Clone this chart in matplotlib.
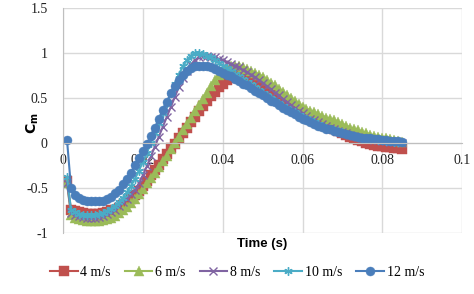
import matplotlib
matplotlib.use("Agg")
import matplotlib.pyplot as plt
import numpy as np

# time samples (s)
time = np.round(np.arange(1, 86) * 0.001, 3)

cm_4 = [-0.42, -0.74, -0.76, -0.77, -0.78, -0.79, -0.79, -0.79, -0.79, -0.78,
        -0.77, -0.75, -0.74, -0.72, -0.69, -0.66, -0.62, -0.58, -0.53, -0.48,
        -0.42, -0.36, -0.30, -0.24, -0.18, -0.12, -0.06, -0.01, 0.05, 0.11,
        0.17, 0.23, 0.29, 0.35, 0.41, 0.47, 0.52, 0.57, 0.62, 0.66,
        0.70, 0.72, 0.74, 0.75, 0.75, 0.74, 0.73, 0.71, 0.69, 0.66,
        0.63, 0.60, 0.57, 0.53, 0.50, 0.46, 0.42, 0.38, 0.35, 0.32,
        0.29, 0.27, 0.25, 0.23, 0.21, 0.19, 0.17, 0.15, 0.13, 0.11,
        0.09, 0.07, 0.05, 0.035, 0.02, 0.0, -0.01, -0.02, -0.03, -0.035,
        -0.04, -0.05, -0.055, -0.06, -0.065]

cm_6 = [-0.45, -0.80, -0.83, -0.85, -0.86, -0.87, -0.87, -0.87, -0.87, -0.86,
        -0.85, -0.83, -0.81, -0.78, -0.75, -0.71, -0.67, -0.62, -0.57, -0.51,
        -0.45, -0.39, -0.33, -0.27, -0.20, -0.14, -0.07, 0.0, 0.07, 0.14,
        0.21, 0.28, 0.35, 0.42, 0.49, 0.56, 0.63, 0.70, 0.76, 0.80,
        0.83, 0.85, 0.85, 0.85, 0.84, 0.82, 0.80, 0.78, 0.76, 0.73,
        0.70, 0.67, 0.64, 0.60, 0.57, 0.53, 0.50, 0.47, 0.43, 0.40,
        0.38, 0.36, 0.34, 0.32, 0.30, 0.28, 0.27, 0.25, 0.23, 0.21,
        0.19, 0.17, 0.16, 0.14, 0.12, 0.11, 0.09, 0.08, 0.07, 0.06,
        0.05, 0.04, 0.03, 0.02, 0.01]

cm_8 = [-0.44, -0.78, -0.80, -0.81, -0.82, -0.83, -0.83, -0.83, -0.82, -0.81,
        -0.79, -0.77, -0.74, -0.70, -0.66, -0.62, -0.57, -0.52, -0.45, -0.36,
        -0.26, -0.15, -0.04, 0.07, 0.18, 0.29, 0.40, 0.51, 0.62, 0.72,
        0.80, 0.87, 0.92, 0.95, 0.97, 0.97, 0.96, 0.95, 0.93, 0.92,
        0.90, 0.88, 0.86, 0.84, 0.81, 0.79, 0.76, 0.73, 0.70, 0.67,
        0.63, 0.60, 0.56, 0.53, 0.49, 0.46, 0.42, 0.39, 0.36, 0.33,
        0.30, 0.27, 0.25, 0.23, 0.21, 0.19, 0.17, 0.15, 0.13, 0.12,
        0.11, 0.09, 0.08, 0.07, 0.06, 0.05, 0.04, 0.035, 0.03, 0.025,
        0.02, 0.015, 0.01, 0.01, 0.005]

cm_10 = [-0.38, -0.74, -0.77, -0.79, -0.80, -0.80, -0.80, -0.80, -0.79, -0.78,
         -0.76, -0.73, -0.70, -0.66, -0.61, -0.55, -0.48, -0.40, -0.31, -0.21,
         -0.11, 0.0, 0.11, 0.22, 0.33, 0.44, 0.55, 0.66, 0.76, 0.85,
         0.92, 0.97, 1.00, 1.00, 0.99, 0.97, 0.95, 0.92, 0.89, 0.86,
         0.83, 0.80, 0.77, 0.74, 0.71, 0.68, 0.65, 0.62, 0.59, 0.56,
         0.53, 0.50, 0.47, 0.44, 0.41, 0.39, 0.36, 0.34, 0.31, 0.29,
         0.27, 0.25, 0.23, 0.21, 0.19, 0.17, 0.16, 0.14, 0.13, 0.12,
         0.10, 0.09, 0.08, 0.07, 0.06, 0.05, 0.05, 0.04, 0.03, 0.03,
         0.02, 0.02, 0.01, 0.01, 0.01]

cm_12 = [0.03, -0.50, -0.58, -0.61, -0.63, -0.64, -0.65, -0.65, -0.65, -0.64,
         -0.62, -0.60, -0.56, -0.52, -0.46, -0.40, -0.33, -0.25, -0.17, -0.09,
         -0.01, 0.08, 0.17, 0.27, 0.37, 0.46, 0.55, 0.63, 0.70, 0.76,
         0.80, 0.83, 0.85, 0.86, 0.86, 0.85, 0.84, 0.82, 0.80, 0.78,
         0.76, 0.74, 0.71, 0.69, 0.66, 0.64, 0.61, 0.58, 0.56, 0.53,
         0.50, 0.47, 0.45, 0.42, 0.39, 0.37, 0.34, 0.32, 0.29, 0.27,
         0.25, 0.23, 0.21, 0.19, 0.18, 0.16, 0.15, 0.13, 0.12, 0.11,
         0.10, 0.09, 0.08, 0.07, 0.06, 0.055, 0.05, 0.045, 0.04, 0.035,
         0.03, 0.025, 0.02, 0.02, 0.015]

labels = ['4 m/s', '6 m/s', '8 m/s', '10 m/s', '12 m/s']
colors = ['#C0504D', '#9BBB59', '#8064A2', '#4BACC6', '#4A7EBB']
markers = ['s', '^', 'x', (6, 2, 0), 'o']
msizes = [6.5, 7, 5.5, 6, 6.5]
series = [cm_4, cm_6, cm_8, cm_10, cm_12]

fig = plt.figure(figsize=(4.74, 2.94), dpi=100)
ax = fig.add_axes([0.133, 0.2075, 0.842, 0.7655])

for vals, lab, c, m, ms in zip(series, labels, colors, markers, msizes):
    thin = m == 'x' or isinstance(m, tuple)
    ax.plot(time, vals, color=c, marker=m, markersize=ms, lw=1.5,
            markeredgewidth=1.0 if thin else 0.3, label=lab)

ax.set_xlim(0, 0.1)
ax.set_ylim(-1, 1.5)
ax.set_xticks([0, 0.02, 0.04, 0.06, 0.08, 0.1])
ax.set_xticklabels(['0', '0.02', '0.04', '0.06', '0.08', '0.1'])
ax.set_yticks([-1, -0.5, 0, 0.5, 1, 1.5])
ax.set_yticklabels(['-1', '-0.5', '0', '0.5', '1', '1.5'])
ax.grid(True, color='#D9D9D9', lw=1)
ax.set_axisbelow(True)

for s in ['top', 'right']:
    ax.spines[s].set_visible(False)
ax.spines['left'].set_color('#BFBFBF')
ax.spines['bottom'].set_position(('data', 0))
ax.spines['bottom'].set_color('#BFBFBF')
ax.tick_params(length=0, labelsize=10, colors='#222222')
ax.tick_params(axis='y', pad=11)
ax.tick_params(axis='x', pad=8)
for lbl in ax.get_xticklabels() + ax.get_yticklabels():
    lbl.set_family('Liberation Serif')

fig.text(0.553, 0.17, 'Time (s)', ha='center', va='center', fontsize=9.5,
         fontweight='bold', family='Liberation Sans')
fig.text(0.07, 0.58, r'$\mathbf{C_m}$', ha='center', va='center', fontsize=10,
         rotation=90)

fig.legend(loc='center', bbox_to_anchor=(0.5, 0.072), ncol=5, frameon=False,
           prop={'family': 'Liberation Serif', 'size': 10}, handlelength=2.0,
           handletextpad=0.2, columnspacing=1.0)

fig.savefig('out.png', dpi=100)
